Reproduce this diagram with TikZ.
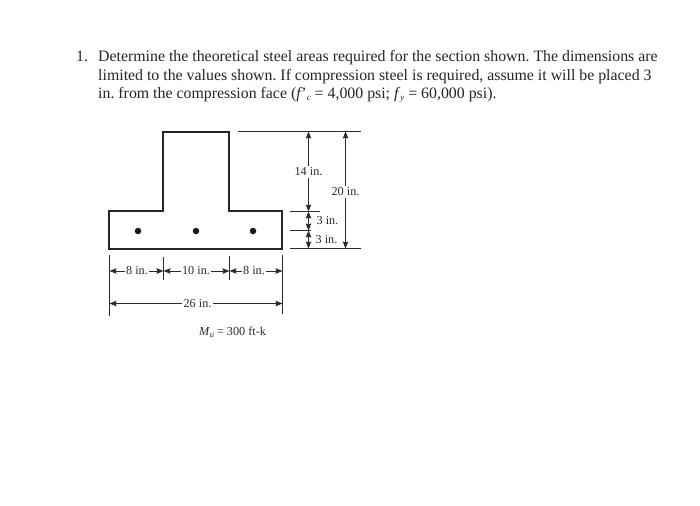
\documentclass[tikz,border=0pt]{standalone}
\usepackage{fontspec}
\setmainfont{Liberation Serif}
\usetikzlibrary{arrows.meta}
\definecolor{inkc}{HTML}{262626}
\definecolor{dimc}{HTML}{2b2b2b}
\tikzset{
  x=1pt,y=-1pt,
  para/.style={anchor=base west,inner sep=0pt,text=inkc,font=\frenchspacing\fontsize{15.85}{18}\selectfont},
  dimlab/.style={inner sep=1.2pt,text=dimc,font=\frenchspacing\fontsize{12.2}{14}\selectfont},
  section/.style={draw=inkc,line width=2pt,line join=miter},
  extline/.style={draw=dimc,line width=1pt},
  dimarrow/.style={draw=dimc,line width=0.9pt,-{Stealth[length=7pt,width=5.5pt,inset=1pt]}},
  dimboth/.style={draw=dimc,line width=0.9pt,{Stealth[length=7pt,width=5.5pt,inset=1pt]}-{Stealth[length=7pt,width=5.5pt,inset=1pt]}},
  rebar/.style={circle,fill=black!90,inner sep=0pt,minimum size=6.5pt},
}
\begin{document}
\begin{tikzpicture}
\useasboundingbox[fill=white] (0,0) rectangle (700,505);
% problem text
\node[para] (num) at (76,62) {1.};
\node[para] (la) at (98,62) {Determine the theoretical steel areas required for the section shown. The dimensions are};
\node[para] (lb) at (98,80.5) {limited to the values shown. If compression steel is required, assume it will be placed 3};
\node[para] (lc) at (98,99) {in. from the compression face (\textit{f}\kern-1pt’\raisebox{-2pt}{\fontsize{9}{9}\selectfont\textit{c}} = 4,000 psi; \textit{f}\raisebox{-2pt}{\fontsize{9}{9}\selectfont\textit{y}} = 60,000 psi).};
% T section
\draw[section] (163,132) -- (229,132) -- (229,211) -- (282,211) -- (282,249) -- (109,249) -- (109,211) -- (163,211) -- cycle;
\node[rebar] (b1) at (138,231) {};
\node[rebar] (b2) at (196,231) {};
\node[rebar] (b3) at (253,231) {};
% vertical dimension reference lines
\coordinate (t1) at (238,131.5);   \coordinate (t2) at (360.7,131.5);
\coordinate (f1) at (289.5,211.5); \coordinate (f2) at (320,211.5);
\coordinate (m1) at (289.5,230.5); \coordinate (m2) at (311,230.5);
\coordinate (g1) at (290,248.5);   \coordinate (g2) at (360.7,248.5);
\draw[extline] (t1) -- (t2);
\draw[extline] (f1) -- (f2);
\draw[extline] (m1) -- (m2);
\draw[extline] (g1) -- (g2);
% vertical dimensions
\node[dimlab] (d14) at (308.5,172) {14 in.};
\node[dimlab] (d20) at (345.5,192) {20 in.};
\node[dimlab] (d3a) at (327.5,221) {3 in.};
\node[dimlab] (d3b) at (326.5,239.5) {3 in.};
\coordinate (a14t) at (308.5,131.5); \coordinate (a14b) at (308.5,211.5);
\coordinate (a20t) at (345.5,131.5); \coordinate (a20b) at (345.5,248.5);
\coordinate (a3m) at (308.5,230.5);  \coordinate (a3g) at (308.5,248.5);
\draw[dimarrow] (d14.north) -- (a14t);
\draw[dimarrow] (d14.south) -- (a14b);
\draw[dimarrow] (d20.north) -- (a20t);
\draw[dimarrow] (d20.south) -- (a20b);
\draw[dimboth] (a14b) -- (a3m);
\draw[dimboth] (a3m) -- (a3g);
% horizontal dimension reference lines
\coordinate (e1t) at (109.5,255); \coordinate (e1b) at (109.5,316);
\coordinate (e2t) at (163.5,257); \coordinate (e2b) at (163.5,279.5);
\coordinate (e3t) at (229.5,256); \coordinate (e3b) at (229.5,279.5);
\coordinate (e4t) at (282.5,255); \coordinate (e4b) at (282.5,314);
\draw[extline] (e1t) -- (e1b);
\draw[extline] (e2t) -- (e2b);
\draw[extline] (e3t) -- (e3b);
\draw[extline] (e4t) -- (e4b);
% horizontal dimensions
\node[dimlab] (w8a) at (137,271) {8 in.};
\node[dimlab] (w10) at (196,271) {10 in.};
\node[dimlab] (w8b) at (254,271) {8 in.};
\node[dimlab] (w26) at (197.5,303.5) {26 in.};
\draw[dimarrow] (w8a.west) -- (w8a.west -| e1t);
\draw[dimarrow] (w8a.east) -- (w8a.east -| e2t);
\draw[dimarrow] (w10.west) -- (w10.west -| e2t);
\draw[dimarrow] (w10.east) -- (w10.east -| e3t);
\draw[dimarrow] (w8b.west) -- (w8b.west -| e3t);
\draw[dimarrow] (w8b.east) -- (w8b.east -| e4t);
\draw[dimarrow] (w26.west) -- (w26.west -| e1t);
\draw[dimarrow] (w26.east) -- (w26.east -| e4t);
% moment
\node[dimlab] (mu) at (232.5,332) {\textit{M}\raisebox{-2pt}{\fontsize{8.5}{8.5}\selectfont\textit{u}} = 300 ft-k};
\end{tikzpicture}
\end{document}
